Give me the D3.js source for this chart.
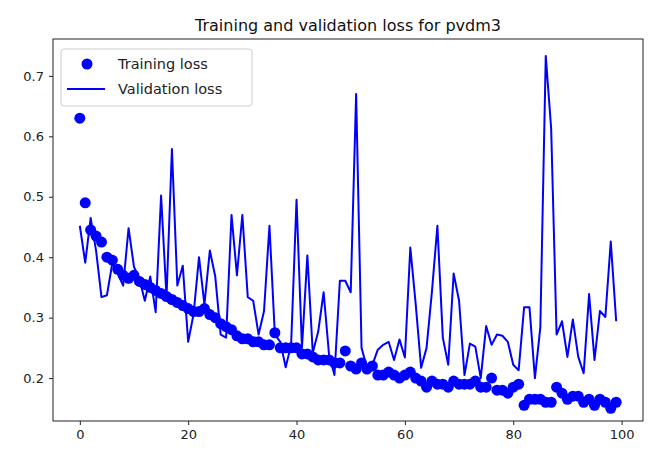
<!DOCTYPE html>
<html><head><meta charset="utf-8">
<script src="https://cdn.jsdelivr.net/npm/d3@7"></script>
<style>body{margin:0;background:#fff}</style></head>
<body><svg id="c" width="653" height="463"></svg>
<script>
const epochs = d3.range(100);
const trainingLoss = [0.63,0.49,0.445,0.435,0.425,0.40,0.395,0.38,0.37,0.365,0.37,0.36,0.355,0.35,0.345,0.34,0.335,0.33,0.325,0.32,0.315,0.31,0.31,0.315,0.305,0.30,0.29,0.285,0.28,0.27,0.265,0.265,0.26,0.26,0.255,0.255,0.275,0.25,0.25,0.25,0.25,0.24,0.24,0.235,0.23,0.23,0.23,0.225,0.225,0.245,0.22,0.215,0.225,0.215,0.22,0.205,0.205,0.21,0.205,0.20,0.205,0.21,0.20,0.195,0.185,0.195,0.19,0.19,0.185,0.195,0.19,0.19,0.19,0.195,0.185,0.185,0.20,0.18,0.18,0.175,0.185,0.19,0.155,0.165,0.165,0.165,0.16,0.16,0.185,0.175,0.165,0.17,0.17,0.16,0.165,0.155,0.165,0.16,0.15,0.16];
const validationLoss = [0.452,0.391,0.465,0.411,0.334,0.337,0.39,0.373,0.353,0.448,0.384,0.364,0.328,0.368,0.309,0.502,0.334,0.579,0.353,0.386,0.26,0.306,0.40,0.322,0.411,0.368,0.272,0.267,0.47,0.37,0.47,0.334,0.328,0.272,0.311,0.452,0.272,0.26,0.218,0.255,0.495,0.25,0.403,0.242,0.277,0.342,0.239,0.205,0.361,0.361,0.342,0.67,0.25,0.217,0.222,0.247,0.255,0.26,0.23,0.264,0.234,0.416,0.322,0.217,0.25,0.344,0.452,0.267,0.222,0.373,0.328,0.205,0.257,0.252,0.2,0.286,0.255,0.272,0.27,0.26,0.222,0.213,0.317,0.317,0.2,0.284,0.733,0.613,0.272,0.294,0.235,0.297,0.235,0.208,0.339,0.23,0.311,0.301,0.426,0.294];
const xTicks = [0,20,40,60,80,100];
const yTicks = [0.2,0.3,0.4,0.5,0.6,0.7];

const svg = d3.select("#c");
const L=53,R=643,T=39,B=421;
const x = d3.scaleLinear().domain([-4.95,103.95]).range([L,R]);
const y = d3.scaleLinear().domain([0.129,0.761]).range([B,T]);
const font = "'DejaVu Sans', sans-serif";

const gx = svg.append("g").attr("transform",`translate(0,${B})`)
  .call(d3.axisBottom(x).tickValues(xTicks).tickSize(4).tickPadding(5).tickFormat(d3.format("d")));
const gy = svg.append("g").attr("transform",`translate(${L},0)`)
  .call(d3.axisLeft(y).tickValues(yTicks).tickSize(4).tickPadding(5).tickFormat(d3.format(".1f")));
[gx,gy].forEach(g=>{g.select(".domain").remove();g.selectAll("text").attr("font-family",font).attr("font-size",13).attr("fill","#222");g.selectAll("line").attr("stroke","#222");});

svg.append("path").datum(validationLoss)
  .attr("fill","none").attr("stroke","#0000ff").attr("stroke-width",2).attr("stroke-linejoin","round")
  .attr("d",d3.line().x((d,i)=>x(epochs[i])).y(d=>y(d)));
svg.append("g").selectAll("circle").data(trainingLoss).join("circle")
  .attr("cx",(d,i)=>x(epochs[i])).attr("cy",d=>y(d)).attr("r",5.5).attr("fill","#0000ff");

svg.append("rect").attr("x",L).attr("y",T).attr("width",R-L).attr("height",B-T)
  .attr("fill","none").attr("stroke","#222").attr("stroke-width",1);

svg.append("text").attr("x",(L+R)/2).attr("y",T-8).attr("text-anchor","middle")
  .attr("font-family",font).attr("font-size",16).attr("fill","#111").text("Training and validation loss for pvdm3");

const lg = svg.append("g");
lg.append("rect").attr("x",61).attr("y",49).attr("width",191).attr("height",57).attr("rx",3)
  .attr("fill","#fff").attr("fill-opacity",0.8).attr("stroke","#ccc");
lg.append("circle").attr("cx",87).attr("cy",64).attr("r",5.5).attr("fill","#0000ff");
lg.append("line").attr("x1",67).attr("x2",105).attr("y1",89).attr("y2",89).attr("stroke","#0000ff").attr("stroke-width",2);
lg.append("text").attr("x",118).attr("y",69).attr("font-family",font).attr("font-size",14.5).attr("fill","#222").text("Training loss");
lg.append("text").attr("x",118).attr("y",94).attr("font-family",font).attr("font-size",14.5).attr("fill","#222").text("Validation loss");
</script></body></html>
